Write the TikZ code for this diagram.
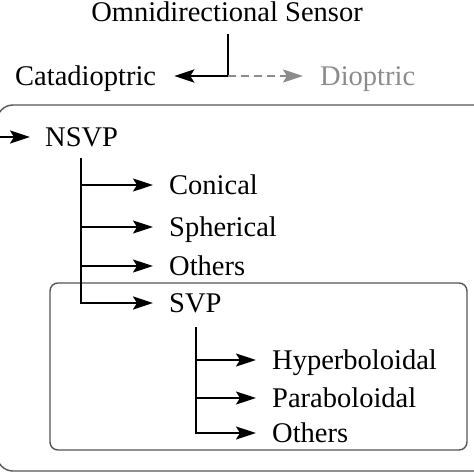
\documentclass[tikz,border=0pt]{standalone}
\usepackage{fontspec}
\setmainfont{Liberation Serif}
\usetikzlibrary{arrows.meta}
\definecolor{boxgray}{HTML}{555555}
\definecolor{dimgray}{HTML}{8C8C8C}
\begin{document}
\begin{tikzpicture}[x=1pt,y=-1pt,
  lbl/.style={font=\fontsize{28.5}{30}\selectfont, inner sep=0pt, text height=18.8pt, text depth=0pt, anchor=west},
  tip/.style={-{Stealth[length=20pt,width=13pt,inset=4pt]}},
  spine/.style={line width=2.5pt},
  branch/.style={line width=1.5pt},
  frame/.style={draw=boxgray, line width=1.4pt}
]
\useasboundingbox (0,0) rectangle (474,474);
\clip (0,0) rectangle (474,474);
% frames
\draw[frame, rounded corners=16pt] (-3,105) rectangle (490,471);
\draw[frame, rounded corners=8pt] (50,283) rectangle (467,450);
% labels
\node[font=\fontsize{28.5}{30}\selectfont, inner sep=0pt, anchor=base] (sensor) at (227,21) {Omnidirectional Sensor};
\node[lbl] (cat) at (15,76) {Catadioptric};
\node[lbl, text=dimgray] (diop) at (320,76) {Dioptric};
\node[lbl] (nsvp) at (45,137) {NSVP};
\node[lbl] (con) at (169,185) {Conical};
\node[lbl] (sph) at (169,227) {Spherical};
\node[lbl] (oth1) at (169,266) {Others};
\node[lbl] (svp) at (169,303) {SVP};
\node[lbl] (hyp) at (272,360) {Hyperboloidal};
\node[lbl] (par) at (272,398) {Paraboloidal};
\node[lbl] (oth2) at (272,433) {Others};
% connectors
\coordinate (j) at (228,34);
\coordinate (jm) at (228,76);
\draw[tip, line width=2.6pt] (j) |- ([xshift=18pt]cat.east);
\draw[tip, dashed, dash pattern=on 8pt off 5pt, draw=dimgray, fill=dimgray, line width=2pt] (jm) -- ([xshift=-17pt]diop.west);
\coordinate (in) at (-2,137);
\draw[tip, line width=2.2pt] (in) -- ([xshift=-15pt]nsvp.west);
\coordinate (n0) at (81,158);
\draw[tip, spine] (n0) |- ([xshift=-16pt]svp.west);
\draw[tip, branch] (n0 |- con.west) -- ([xshift=-16pt]con.west);
\draw[tip, branch] (n0 |- sph.west) -- ([xshift=-16pt]sph.west);
\draw[tip, branch] (n0 |- oth1.west) -- ([xshift=-16pt]oth1.west);
\coordinate (s0) at (196,327);
\draw[tip, branch] (s0) |- ([xshift=-16pt]oth2.west);
\draw[tip, branch] (s0 |- hyp.west) -- ([xshift=-16pt]hyp.west);
\draw[tip, branch] (s0 |- par.west) -- ([xshift=-16pt]par.west);
\end{tikzpicture}
\end{document}
